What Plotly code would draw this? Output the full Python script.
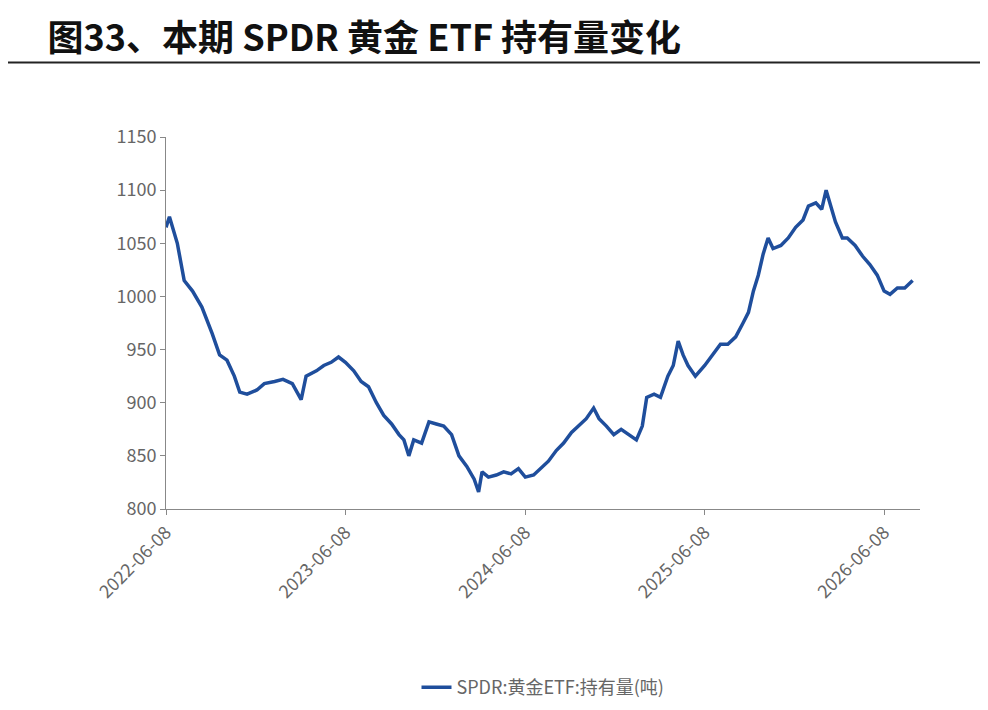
import plotly.graph_objects as go

# SPDR gold ETF holdings (tonnes)
dates = ["2022-06-08","2022-06-15","2022-07-01","2022-07-15","2022-08-01","2022-08-20","2022-09-10","2022-09-25",
         "2022-10-10","2022-10-25","2022-11-05","2022-11-20","2022-12-10","2022-12-25","2023-01-15","2023-02-01",
         "2023-02-20","2023-03-01","2023-03-10","2023-03-20","2023-04-10","2023-04-25","2023-05-10","2023-05-25",
         "2023-06-08","2023-06-25","2023-07-10","2023-07-25","2023-08-10","2023-08-25","2023-09-10","2023-09-25",
         "2023-10-05","2023-10-15","2023-10-25","2023-11-10","2023-11-25","2023-12-10","2023-12-25","2024-01-10",
         "2024-01-25","2024-02-10","2024-02-25","2024-03-05","2024-03-12","2024-03-25","2024-04-10","2024-04-25",
         "2024-05-10","2024-05-25","2024-06-08","2024-06-25","2024-07-10","2024-07-25","2024-08-10","2024-08-25",
         "2024-09-10","2024-09-25","2024-10-10","2024-10-25","2024-11-05","2024-11-20","2024-12-05","2024-12-20",
         "2025-01-05","2025-01-20","2025-02-01","2025-02-10","2025-02-25","2025-03-10","2025-03-25","2025-04-05",
         "2025-04-15","2025-04-25","2025-05-05","2025-05-20","2025-06-08","2025-06-25","2025-07-10","2025-07-25",
         "2025-08-10","2025-08-25","2025-09-05","2025-09-15","2025-09-25","2025-10-05","2025-10-15","2025-10-25",
         "2025-11-10","2025-11-25","2025-12-10","2025-12-25","2026-01-05","2026-01-20","2026-02-01","2026-02-10",
         "2026-02-20","2026-03-01","2026-03-15","2026-03-25","2026-04-10","2026-04-25","2026-05-10","2026-05-25",
         "2026-06-08","2026-06-20","2026-07-05","2026-07-20","2026-08-05"]
holdings = [1065,1075,1050,1015,1005,990,965,945,
            940,925,910,908,912,918,920,922,
            918,910,903,925,930,935,938,943,
            938,930,920,915,900,888,880,870,
            865,850,865,862,882,880,878,870,
            850,840,828,816,835,830,832,835,
            833,838,830,832,838,845,855,862,
            872,878,885,895,885,878,870,875,
            870,865,878,905,908,905,925,935,
            958,945,935,925,935,945,955,955,
            962,975,985,1005,1020,1040,1055,1045,
            1048,1055,1065,1072,1085,1088,1082,1100,
            1085,1070,1055,1055,1048,1038,1030,1020,
            1005,1002,1008,1008,1015]
tick_vals = ["2022-06-08","2023-06-08","2024-06-08","2025-06-08","2026-06-08"]

fig = go.Figure(go.Scatter(x=dates, y=holdings, mode="lines", name="SPDR:黄金ETF:持有量(吨)",
                           line=dict(color="#1f4e9c", width=3.5)))

fig.update_layout(
    width=988, height=710, plot_bgcolor="white", paper_bgcolor="white",
    font=dict(family="Noto Sans CJK SC", color="#666666", size=18),
    margin=dict(l=158, r=76, t=129, b=192),
    showlegend=True,
    legend=dict(orientation="h", x=0.5, xanchor="center", y=-0.43, yanchor="top", font=dict(size=18)),
    title=dict(text="<b>图33、本期 SPDR 黄金 ETF 持有量变化</b>", x=0.04, xanchor="left", y=0.975, yanchor="top",
               font=dict(size=36, color="#111111")),
    shapes=[dict(type="line", xref="paper", yref="paper", x0=-0.21, x1=1.12, y0=1.2, y1=1.2,
                 line=dict(color="#222222", width=2))],
)
fig.update_xaxes(type="date", range=["2022-06-08", "2026-08-20"], tickvals=tick_vals, ticktext=tick_vals,
                 tickangle=-45, showgrid=False, showline=True, linecolor="#888888",
                 ticks="outside", ticklen=5, tickcolor="#888888")
fig.update_yaxes(range=[800, 1150], dtick=50, showgrid=False, showline=True, linecolor="#888888",
                 ticks="outside", ticklen=5, tickcolor="#888888")

fig.write_html("out.html")
